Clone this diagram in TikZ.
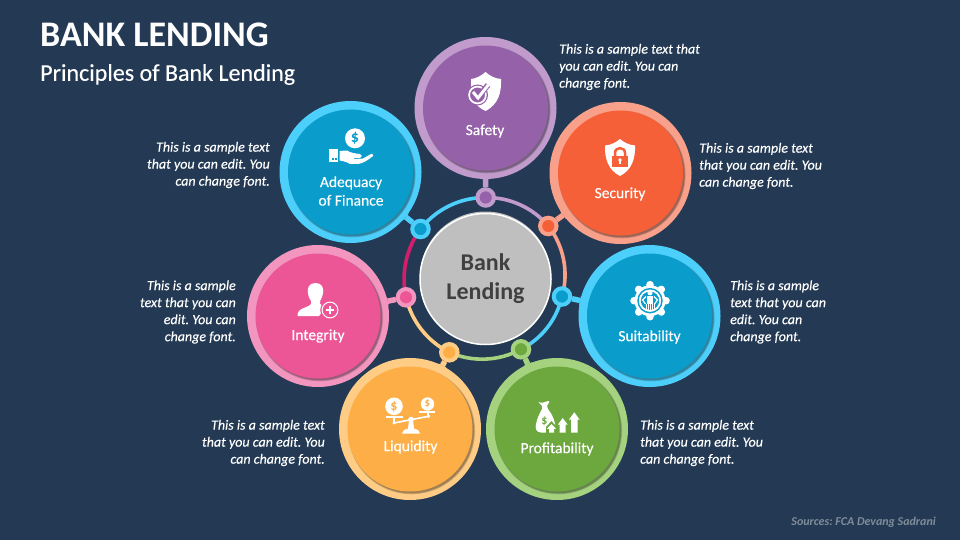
\documentclass[tikz,border=0pt]{standalone}
\usepackage{fontspec}
\setmainfont{Carlito}
\newfontfamily\medf[FakeBold=0.25]{Carlito}
\frenchspacing
\usetikzlibrary{calc}
\definecolor{bgc}{HTML}{243A54}
\definecolor{purD}{HTML}{9561A8}\definecolor{purL}{HTML}{C09BCB}
\definecolor{oraD}{HTML}{F56039}\definecolor{oraL}{HTML}{F9A08A}
\definecolor{bluD}{HTML}{0A9CCB}\definecolor{bluL}{HTML}{4DCFFB}
\definecolor{pnkD}{HTML}{EC5697}\definecolor{pnkL}{HTML}{F296BF}
\definecolor{yelD}{HTML}{FDAE47}\definecolor{yelL}{HTML}{FECC85}
\definecolor{grnD}{HTML}{6DA83F}\definecolor{grnL}{HTML}{A5D27E}
\definecolor{magc}{HTML}{D31E6E}
\definecolor{srcc}{HTML}{7F8C99}
\pgfdeclarelayer{back}\pgfdeclarelayer{ringl}
\pgfsetlayers{back,ringl,main}
\tikzset{
  outerc/.style={circle,inner sep=0pt,minimum size=142pt,fill=#1},
  innerc/.style={circle,inner sep=0pt,minimum size=125pt,fill=#1},
  dotn/.style={circle,inner sep=0pt,minimum size=16.5pt,line width=4pt},
  ringarc/.style={line width=3.6pt,bend left=#1,looseness=0.9},
  stem/.style={line width=5.5pt},
  stemflare/.style={line width=9pt,shorten >=14.5pt},
  lbl/.style={text=white,font=\medf\fontsize{15.5}{18.5}\selectfont,align=center,inner sep=0pt},
  desc/.style={text=white,font=\medf\fontsize{14}{17}\selectfont\itshape,inner sep=0pt},
  descl/.style={desc,anchor=west,align=left},
  descr/.style={desc,anchor=east,align=right},
}
\newcommand{\petal}[5]{%
  \node[outerc=#4] (#1) at (#2,#3) {};
  \foreach \rr in {63.6,63.0,62.5}{\fill[black,opacity=0.14] (#2+1.5,#3+1.7) circle[radius=\rr];}
  \node[innerc=#5] (#1in) at (#2,#3) {};
}
\begin{document}
\begin{tikzpicture}[x=1pt,y=-1pt]
\useasboundingbox (0,0) rectangle (960,540);
\begin{pgfonlayer}{back}
\fill[bgc] (0,0) rectangle (960,540);
\end{pgfonlayer}

% petals
\petal{safety}{485.5}{108}{purL}{purD}
\petal{security}{620.5}{173}{oraL}{oraD}
\petal{suit}{649.5}{316}{bluL}{bluD}
\petal{profit}{557}{429}{grnL}{grnD}
\petal{liquid}{410}{429}{yelL}{yelD}
\petal{integ}{318}{316}{pnkL}{pnkD}
\petal{adeq}{350.5}{172}{bluL}{bluD}

% hub and dots
\node[circle,inner sep=0pt,minimum size=131pt,fill=black!25,draw=white,line width=1.5pt,
  text=black!75,font=\fontsize{24}{29}\selectfont\bfseries,align=center] (hub) at (485.5,279) {\vphantom{B}Bank\\Lending};
\node[dotn,draw=purL,fill=purD] (dsafety) at (485.7,197.5) {};
\node[dotn,draw=oraL,fill=oraD] (dsecurity) at (548.3,226) {};
\node[dotn,draw=bluL,fill=bluD] (dsuit) at (562,296.5) {};
\node[dotn,draw=grnL,fill=grnD] (dprofit) at (521,349.3) {};
\node[dotn,draw=yelL,fill=yelD] (dliquid) at (449.3,352.3) {};
\node[dotn,draw=pnkL,fill=pnkD] (dinteg) at (406,297.3) {};
\node[dotn,draw=bluL,fill=bluD] (dadeq) at (420.5,229) {};

\begin{pgfonlayer}{ringl}
\fill[black!25] (485.5,277) circle[radius=65.5];
\draw[purL,ringarc=25] (dsafety.center) to (dsecurity.center);
\draw[oraL,ringarc=27] (dsecurity.center) to (dsuit.center);
\draw[bluL,ringarc=25] (dsuit.center) to (dprofit.center);
\draw[grnL,ringarc=26] (dprofit.center) to (dliquid.center);
\draw[yelL,ringarc=25] (dliquid.center) to (dinteg.center);
\draw[magc,ringarc=24] (dinteg.center) to (dadeq.center);
\draw[bluL,ringarc=26] (dadeq.center) to (dsafety.center);
\draw[stem,purL] (safety) -- (dsafety);
\draw[stem,oraL] (security) -- (dsecurity);
\draw[stem,bluL] (suit) -- (dsuit);
\draw[stem,grnL] (profit) -- (dprofit);
\draw[stem,yelL] (liquid) -- (dliquid);
\draw[stem,pnkL] (integ) -- (dinteg);
\draw[stem,bluL] (adeq) -- (dadeq);
\draw[stemflare,purL] (safety) -- (dsafety);
\draw[stemflare,oraL] (security) -- (dsecurity);
\draw[stemflare,bluL] (suit) -- (dsuit);
\draw[stemflare,grnL] (profit) -- (dprofit);
\draw[stemflare,yelL] (liquid) -- (dliquid);
\draw[stemflare,pnkL] (integ) -- (dinteg);
\draw[stemflare,bluL] (adeq) -- (dadeq);
\end{pgfonlayer}

% labels
\node[lbl] (lsafety) at (485,131) {Safety};
\node[lbl] (lsecurity) at (620,194) {Security};
\node[lbl] (lsuit) at (649.5,337) {Suitability};
\node[lbl] (lprofit) at (557,449) {Profitability};
\node[lbl] (lliquid) at (410.5,447) {Liquidity};
\node[lbl] (linteg) at (318,336) {Integrity};
\node[lbl] (ladeq) at (351,191) {Adequacy\\of Finance};

% descriptions
\node[descl] (tsafety) at (559,67) {This is a sample text that\\you can edit. You can\\change font.};
\node[descl] (tsecurity) at (699,166) {This is a sample text\\that you can edit. You\\can change font.};
\node[descl] (tsuit) at (730,312) {This is a sample\\text that you can\\edit. You can\\change font.};
\node[descl] (tprofit) at (640,443) {This is a sample text\\that you can edit. You\\can change font.};
\node[descr] (tliquid) at (325,443) {This is a sample text\\that you can edit. You\\can change font.};
\node[descr] (tinteg) at (236,312) {This is a sample\\text that you can\\edit. You can\\change font.};
\node[descr] (tadeq) at (270,165) {This is a sample text\\that you can edit. You\\can change font.};

% titles
\node[anchor=west,inner sep=0pt,text=white,font=\fontsize{36}{40}\selectfont\bfseries] (title) at (40,35) {BANK LENDING};
\node[anchor=west,inner sep=0pt,text=white,font=\medf\fontsize{24}{28}\selectfont] (subtitle) at (40,74.5) {Principles of Bank Lending};
\node[anchor=east,inner sep=0pt,text=srcc,font=\fontsize{12}{14}\selectfont\bfseries\itshape] (source) at (936,522) {Sources: FCA Devang Sadrani};

% icon: safety shield
\fill[white] (485.5,72) .. controls (490,76) and (495,78.5) .. (501,79)
  .. controls (501.5,92) and (499,104) .. (485.5,111)
  .. controls (477,107) and (472.5,101) .. (471,92) -- (471,79)
  .. controls (476,78.5) and (481,76) .. (485.5,72) -- cycle;
\fill[purD] (477.5,95) circle[radius=10.5];
\draw[white,line width=1.7pt] (477.5,95) circle[radius=8.4];
\draw[purD,line width=5.5pt] (474,92) -- (478,97) -- (488,85);
\draw[white,line width=3pt] (473,92) -- (478,98) -- (489,84);

% icon: security shield
\fill[white] (620,139) .. controls (624,142.5) and (629,145) .. (635,145.5)
  .. controls (635.5,158) and (632,170) .. (620,176)
  .. controls (608,170) and (604.5,158) .. (605,145.5)
  .. controls (611,145) and (616,142.5) .. (620,139) -- cycle;
\fill[oraD] (612,156) rectangle (628,167);
\draw[oraD,line width=2.5pt] (615,157) -- (615,153) .. controls (615,146.5) and (625,146.5) .. (625,153) -- (625,157);
\fill[white] (620,160) circle[radius=1.8];
\fill[white] (619.2,160) rectangle (620.8,164);

% icon: adequacy hand and coin
\fill[white] (355,138.3) circle[radius=10];
\node[inner sep=0pt,text=bluD,font=\fontsize{16}{16}\selectfont\bfseries] (coina) at (355,138.3) {\$};
\fill[white] (329,149) rectangle (337.5,162.5);
\fill[bluD] (331.5,158.5) rectangle (333.5,160.5);
\fill[bluD] (334.5,158.5) rectangle (336.5,160.5);
\fill[white] (339.5,151) -- (347,150.5) .. controls (351,153) and (355,153.5) .. (360,154)
  .. controls (362.5,154.5) and (362.5,157.5) .. (360,158) -- (354,158) -- (354,159)
  -- (363,158.5) -- (371,154) .. controls (373,153.5) and (374,155) .. (373,156)
  .. controls (368,160) and (364,163) .. (358,164) -- (350,164)
  .. controls (347,162) and (343,161) .. (339.5,160.5) -- cycle;

% icon: suitability gear
\foreach \a in {0,45,...,315}{
  \fill[white] ({650+16*cos(\a)},{300.7+16*sin(\a)}) circle[radius=3.8];
}
\fill[white] (650,300.7) circle[radius=15.5];
\draw[bluD,line width=1.4pt] (650,300.7) circle[radius=12];
\fill[bluD] (650,300.7) circle[radius=9.2];
\fill[white] (650,292.8) circle[radius=2.6];
\fill[white] (646.6,296) rectangle (653.4,303.5);
\draw[white,line width=1.2pt] (646,296.5) -- (642.5,300) -- (645.5,304);
\draw[white,line width=1.2pt] (654,296.5) -- (657.5,300) -- (654.5,304);
\foreach \xx in {645.8,647.8,649.8,651.8,653.8}{
  \fill[white] (\xx,304) rectangle (\xx+1.2,309.5);
}

% icon: integrity person
\fill[white] (315.5,283) .. controls (322,283) and (324,288) .. (323,293)
  .. controls (322.5,297) and (321,299) .. (320,301) -- (320,304)
  .. controls (322,306) and (325,306.5) .. (327,307.5) -- (322,312) -- (319,316)
  -- (297.5,316) .. controls (297,312) and (300,309) .. (305,307.5)
  .. controls (308,306.5) and (310,305.5) .. (311,304) -- (311,301)
  .. controls (309.5,299) and (308.5,297) .. (308,293)
  .. controls (307,288) and (309,283) .. (315.5,283) -- cycle;
\fill[pnkD] (330,310) circle[radius=9.8];
\draw[white,line width=1pt] (330,310) circle[radius=7.9];
\draw[white,line width=1.8pt] (325.7,310) -- (334.3,310) (330,305.7) -- (330,314.3);

% icon: liquidity scale
\fill[white] (394,406.3) circle[radius=8.8];
\node[inner sep=0pt,text=yelD,font=\fontsize{14}{14}\selectfont\bfseries] (coinl) at (394,406.3) {\$};
\fill[white] (427.5,404) circle[radius=6.7];
\node[inner sep=0pt,text=yelD,font=\fontsize{11}{11}\selectfont\bfseries] (coinr) at (427.5,404) {\$};
\fill[white] (385.5,416.3) rectangle (403,418.3);
\fill[white] (418.5,411.3) rectangle (434.5,413.3);
\draw[white,line width=1.4pt] (394,418) -- (394,423) (428,413) -- (428,417);
\draw[white,line width=1.6pt] (394,423) -- (430,416);
\fill[white] (394,423) circle[radius=1.7];
\fill[white] (428.5,416.5) circle[radius=1.7];
\fill[white] (411,419.5) circle[radius=2.8];
\fill[white] (409,420) -- (413,420) -- (414,428.5) -- (418,430) -- (420,433.5) -- (402,433.5) -- (404,430) -- (408,428.5) -- cycle;

% icon: profitability bag and arrows
\fill[white] (538.5,402) .. controls (541,403.5) and (545,402.5) .. (548,401)
  .. controls (549,400.5) and (549.5,401.5) .. (549,402.5) -- (547,406) -- (548,409)
  .. controls (551,413) and (554,418) .. (555,424)
  .. controls (556,430) and (554,432.5) .. (550,432.5) -- (541,432.5)
  .. controls (536,432.5) and (535,428) .. (536,424)
  .. controls (537,418) and (540,413) .. (542,409) -- (542,406) -- cycle;
\node[inner sep=0pt,text=grnD,font=\fontsize{12}{12}\selectfont\bfseries] (coinb) at (544.5,421) {\$};
\fill[grnD] (551.5,421) -- (557.5,428) -- (557.5,434) -- (546,434) -- (546,427) -- cycle;
\fill[white] (551.5,424) -- (556,428.8) -- (554,428.8) -- (554,432.5) -- (549,432.5) -- (549,428.8) -- (547,428.8) -- cycle;
\fill[white] (562.7,418) -- (567.5,424.5) -- (565.7,424.5) -- (565.7,432.5) -- (559.7,432.5) -- (559.7,424.5) -- (558,424.5) -- cycle;
\fill[white] (574.3,412.3) -- (579.5,419.5) -- (577.6,419.5) -- (577.6,432.5) -- (571,432.5) -- (571,419.5) -- (569,419.5) -- cycle;
\end{tikzpicture}
\end{document}
